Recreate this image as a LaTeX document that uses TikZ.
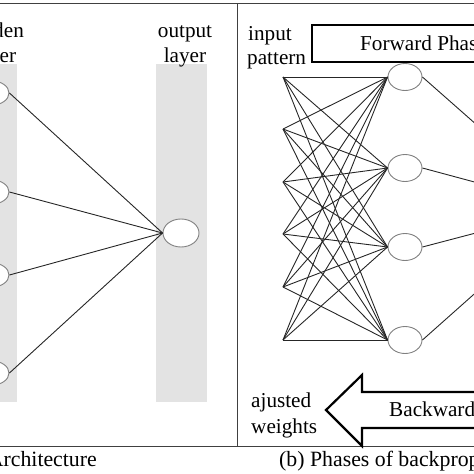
\documentclass[tikz,border=0pt]{standalone}
\usepackage{fontspec}
\setmainfont{Liberation Serif}
\usetikzlibrary{shapes.geometric}
\begin{document}
\begin{tikzpicture}[x=1pt,y=-1pt,
  frame/.style={draw=black!75,line width=1pt},
  band/.style={fill=black!11},
  neuron/.style={ellipse,draw=black!50,line width=0.9pt,fill=white,inner sep=0pt,minimum width=34pt,minimum height=26pt},
  link/.style={draw=black!85,line width=0.9pt},
  lbl/.style={font=\fontsize{21.2}{25}\selectfont,inner sep=0pt},
  captxt/.style={font=\fontsize{21.8}{25}\selectfont,inner sep=0pt},
  phase/.style={draw=black,line width=2.2pt,fill=white}
]
\useasboundingbox (0,0) rectangle (474,474);
\clip (0,0) rectangle (474,474);

% frames
\draw[frame] (-300,3) rectangle (237,446);
\draw[frame] (237,3) rectangle (800,446);

% ---------- (a) architecture ----------
\fill[band] (-34,64) rectangle (17,402);
\fill[band] (156,64) rectangle (207,402);
\node[neuron,minimum height=24pt] (lh1) at (-8,93) {};
\node[neuron,minimum height=24pt] (lh2) at (-8,192) {};
\node[neuron,minimum height=24pt] (lh3) at (-8,275) {};
\node[neuron,minimum height=24pt] (lh4) at (-8,373) {};
\node[neuron,minimum width=36pt,minimum height=28pt] (out) at (181,233) {};
\foreach \k in {1,...,4} \draw[link] (lh\k.east) -- (out.west);

\node[lbl,anchor=base] (th1) at (-5,37) {hidden};
\node[lbl,anchor=base] (th2) at (-5,62) {layer};
\node[lbl,anchor=base] (to1) at (185,37) {output};
\node[lbl,anchor=base] (to2) at (185,62) {layer};
\node[captxt,anchor=base east] (capa) at (97,466) {(a) Architecture};

% ---------- (b) phases ----------
\node[lbl,anchor=base west] (tin1) at (248,40) {input};
\node[lbl,anchor=base west] (tin2) at (247,64) {pattern};
\draw[phase] (312,25) rectangle (560,62);
\node[lbl,anchor=base west] (fwd) at (360,50) {Forward Phase};

\coordinate (i1) at (283,77);
\coordinate (i2) at (283,129);
\coordinate (i3) at (283,182);
\coordinate (i4) at (283,234);
\coordinate (i5) at (283,287);
\coordinate (i6) at (283,340);
\node[neuron,minimum height=27pt] (h1) at (405,77) {};
\node[neuron,minimum height=27pt] (h2) at (405,168) {};
\node[neuron,minimum height=27pt] (h3) at (405,247) {};
\node[neuron,minimum height=27pt] (h4) at (405,340) {};
\coordinate (o) at (571,208);
\foreach \i in {1,...,6}
  \foreach \j in {1,...,4}
    \draw[link] (i\i) -- (h\j.west);
\foreach \j in {1,...,4} \draw[link] (h\j.east) -- (o);

\draw[phase,line join=miter] (326,410) -- (362,375) -- (362,392) -- (800,392)
  -- (800,428) -- (362,428) -- (362,446) -- cycle;
\node[lbl,anchor=base west] (bwd) at (389,416) {Backward Phase};
\node[lbl,anchor=base west] (ta1) at (251,407) {ajusted};
\node[lbl,anchor=base west] (ta2) at (251,433) {weights};
\node[captxt,anchor=base west] (capb) at (279,466) {(b) Phases of backpropagation};
\end{tikzpicture}
\end{document}
